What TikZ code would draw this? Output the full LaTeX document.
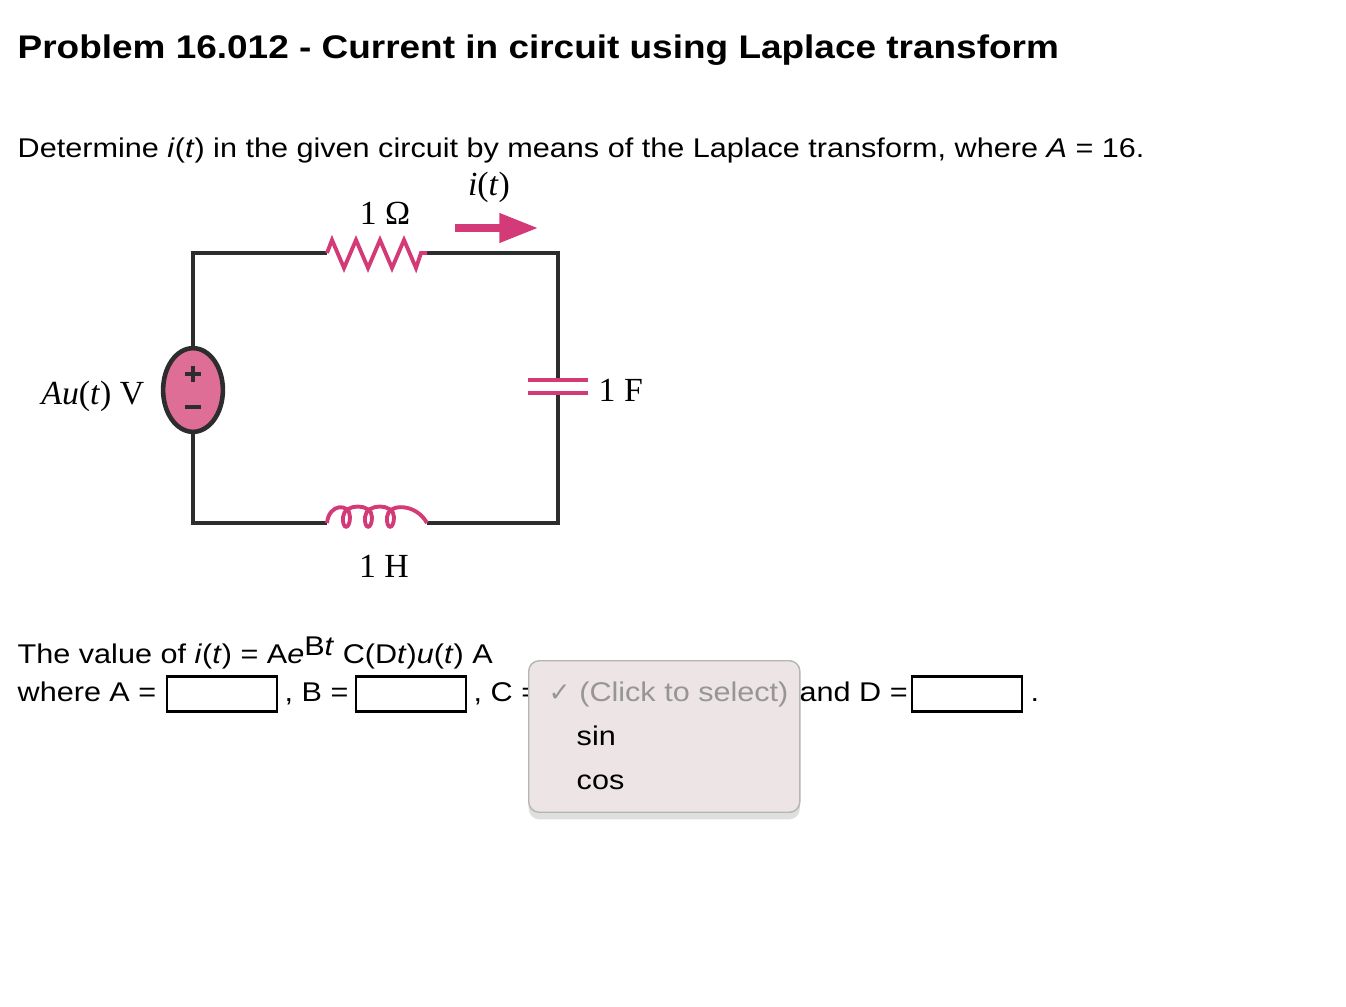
\documentclass[tikz,border=0pt]{standalone}
\usepackage{fontspec}
\setmainfont[FakeStretch=1.13]{Liberation Sans}
\newfontfamily\serf{Liberation Serif}
\newfontfamily\symf{DejaVu Sans}
\usetikzlibrary{decorations.pathmorphing,arrows.meta,shadows,shapes.geometric}
\definecolor{pk}{RGB}{212,58,120}
\definecolor{pkfill}{RGB}{222,110,150}
\definecolor{wire}{RGB}{45,45,45}
\definecolor{menu}{RGB}{237,228,229}
\definecolor{gr}{RGB}{150,150,150}
\tikzset{
 txt/.style={anchor=base west,inner sep=0pt,font=\fontsize{7.7pt}{9pt}\selectfont},
 ttl/.style={anchor=base west,inner sep=0pt,font=\fontsize{9.3pt}{11pt}\selectfont\bfseries},
 lbl/.style={inner sep=0pt,font=\fontsize{9.6pt}{11pt}\selectfont\serf},
 wr/.style={draw=wire,line width=1.1pt},
 el/.style={draw=pk,line width=1.1pt},
 ansbox/.style={draw=black,line width=0.7pt,minimum width=31.2pt,minimum height=9.9pt,inner sep=0pt}
}
\begin{document}
\begin{tikzpicture}[x=0.01cm,y=-0.01cm]
\useasboundingbox[fill=white] (0,0) rectangle (1346,1006);
\node[ttl] (title) at (17,58) {Problem 16.012 - Current in circuit using Laplace transform};
\node[txt] (q) at (17,157) {Determine \textit{i}(\textit{t}) in the given circuit by means of the Laplace transform, where \textit{A} = 16.};
% circuit
\coordinate (tl) at (193,253); \coordinate (tr) at (558,253);
\coordinate (bl) at (193,523); \coordinate (br) at (558,523);
\coordinate (r1) at (327,253); \coordinate (r2) at (427,253);
\coordinate (l1) at (327,523); \coordinate (l2) at (427,523);
\coordinate (c1) at (558,380); \coordinate (c2) at (558,393);
\node[draw=wire,line width=1.3pt,fill=pkfill,ellipse,minimum width=17pt,minimum height=23.8pt,inner sep=0pt] (src) at (193,390) {};
\draw[wr] (src.north) -- (tl) -- (r1);
\draw[wr] (r2) -- (tr) -- (c1);
\draw[wr] (c2) -- (br) -- (l2);
\draw[wr] (l1) -- (bl) -- (src.south);
\draw[el,line join=miter] (r1) -- (332,240) -- (344,268) -- (356,240) -- (368,268) -- (380,240) -- (392,268) -- (404,240) -- (416,268) -- (421,253) -- (r2);
\draw[el] (l1) .. controls (329,503) and (350,503) .. (350,517) .. controls (350,530) and (342,530) .. (343,517)
  .. controls (344,503) and (372,503) .. (372,517) .. controls (372,530) and (364,530) .. (365,517)
  .. controls (366,503) and (394,503) .. (394,517) .. controls (394,530) and (386,530) .. (387,517)
  .. controls (388,503) and (416,503) .. (l2);
\draw[el] (528,380) -- (588,380);
\draw[el] (528,393) -- (588,393);
\draw[wire,line width=1.2pt] (185,374) -- (201,374) (193,366) -- (193,382);
\draw[wire,line width=1.2pt] (185,407) -- (201,407);
\coordinate (a1) at (455,228); \coordinate (a2) at (538,228);
\draw[pk,line width=2pt,-{Triangle[length=11pt,width=8pt]}] (a1) -- (a2);
\node[lbl] (li) at (489,187) {\textit{i}(\textit{t})};
\node[lbl] (lr) at (385,213) {1 Ω};
\node[lbl,anchor=east] (lv) at (145,396) {\textit{Au}(\textit{t}) V};
\node[lbl,anchor=west] (lf) at (598,390) {1 F};
\node[lbl] (lh) at (384,566) {1 H};
% answer
\node[txt] (v) at (17,663) {The value of \textit{i}(\textit{t}) = A\textit{e}\raisebox{0.5ex}{B\textit{t}} C(D\textit{t})\textit{u}(\textit{t}) A};
\node[txt] (w) at (17,701) {where A =};
\node[ansbox,anchor=west] (ba) at (166,694) {};
\node[txt] (wb) at (284,701) {, B =};
\node[ansbox,anchor=west] (bb) at (355,694) {};
\node[txt] (wc) at (473,701) {, C =};
\node[txt] (wd) at (799,701) {and D =};
\node[ansbox,anchor=west] (bd) at (911,694) {};
\node[txt] (dot) at (1030,701) {.};
\node[draw=gr!70,fill=menu,rounded corners=3pt,line width=0.4pt,minimum width=77.1pt,minimum height=43.1pt,anchor=north west,drop shadow={opacity=0.25,shadow xshift=0pt,shadow yshift=-2pt}] (menu) at (528,660) {};
\node[txt,text=gr] (m1) at (548,701) {{\symf\fontsize{7.5pt}{8pt}\selectfont ✓} (Click to select)};
\node[txt] (m2) at (576,745) {sin};
\node[txt] (m3) at (576,789) {cos};
\end{tikzpicture}
\end{document}
